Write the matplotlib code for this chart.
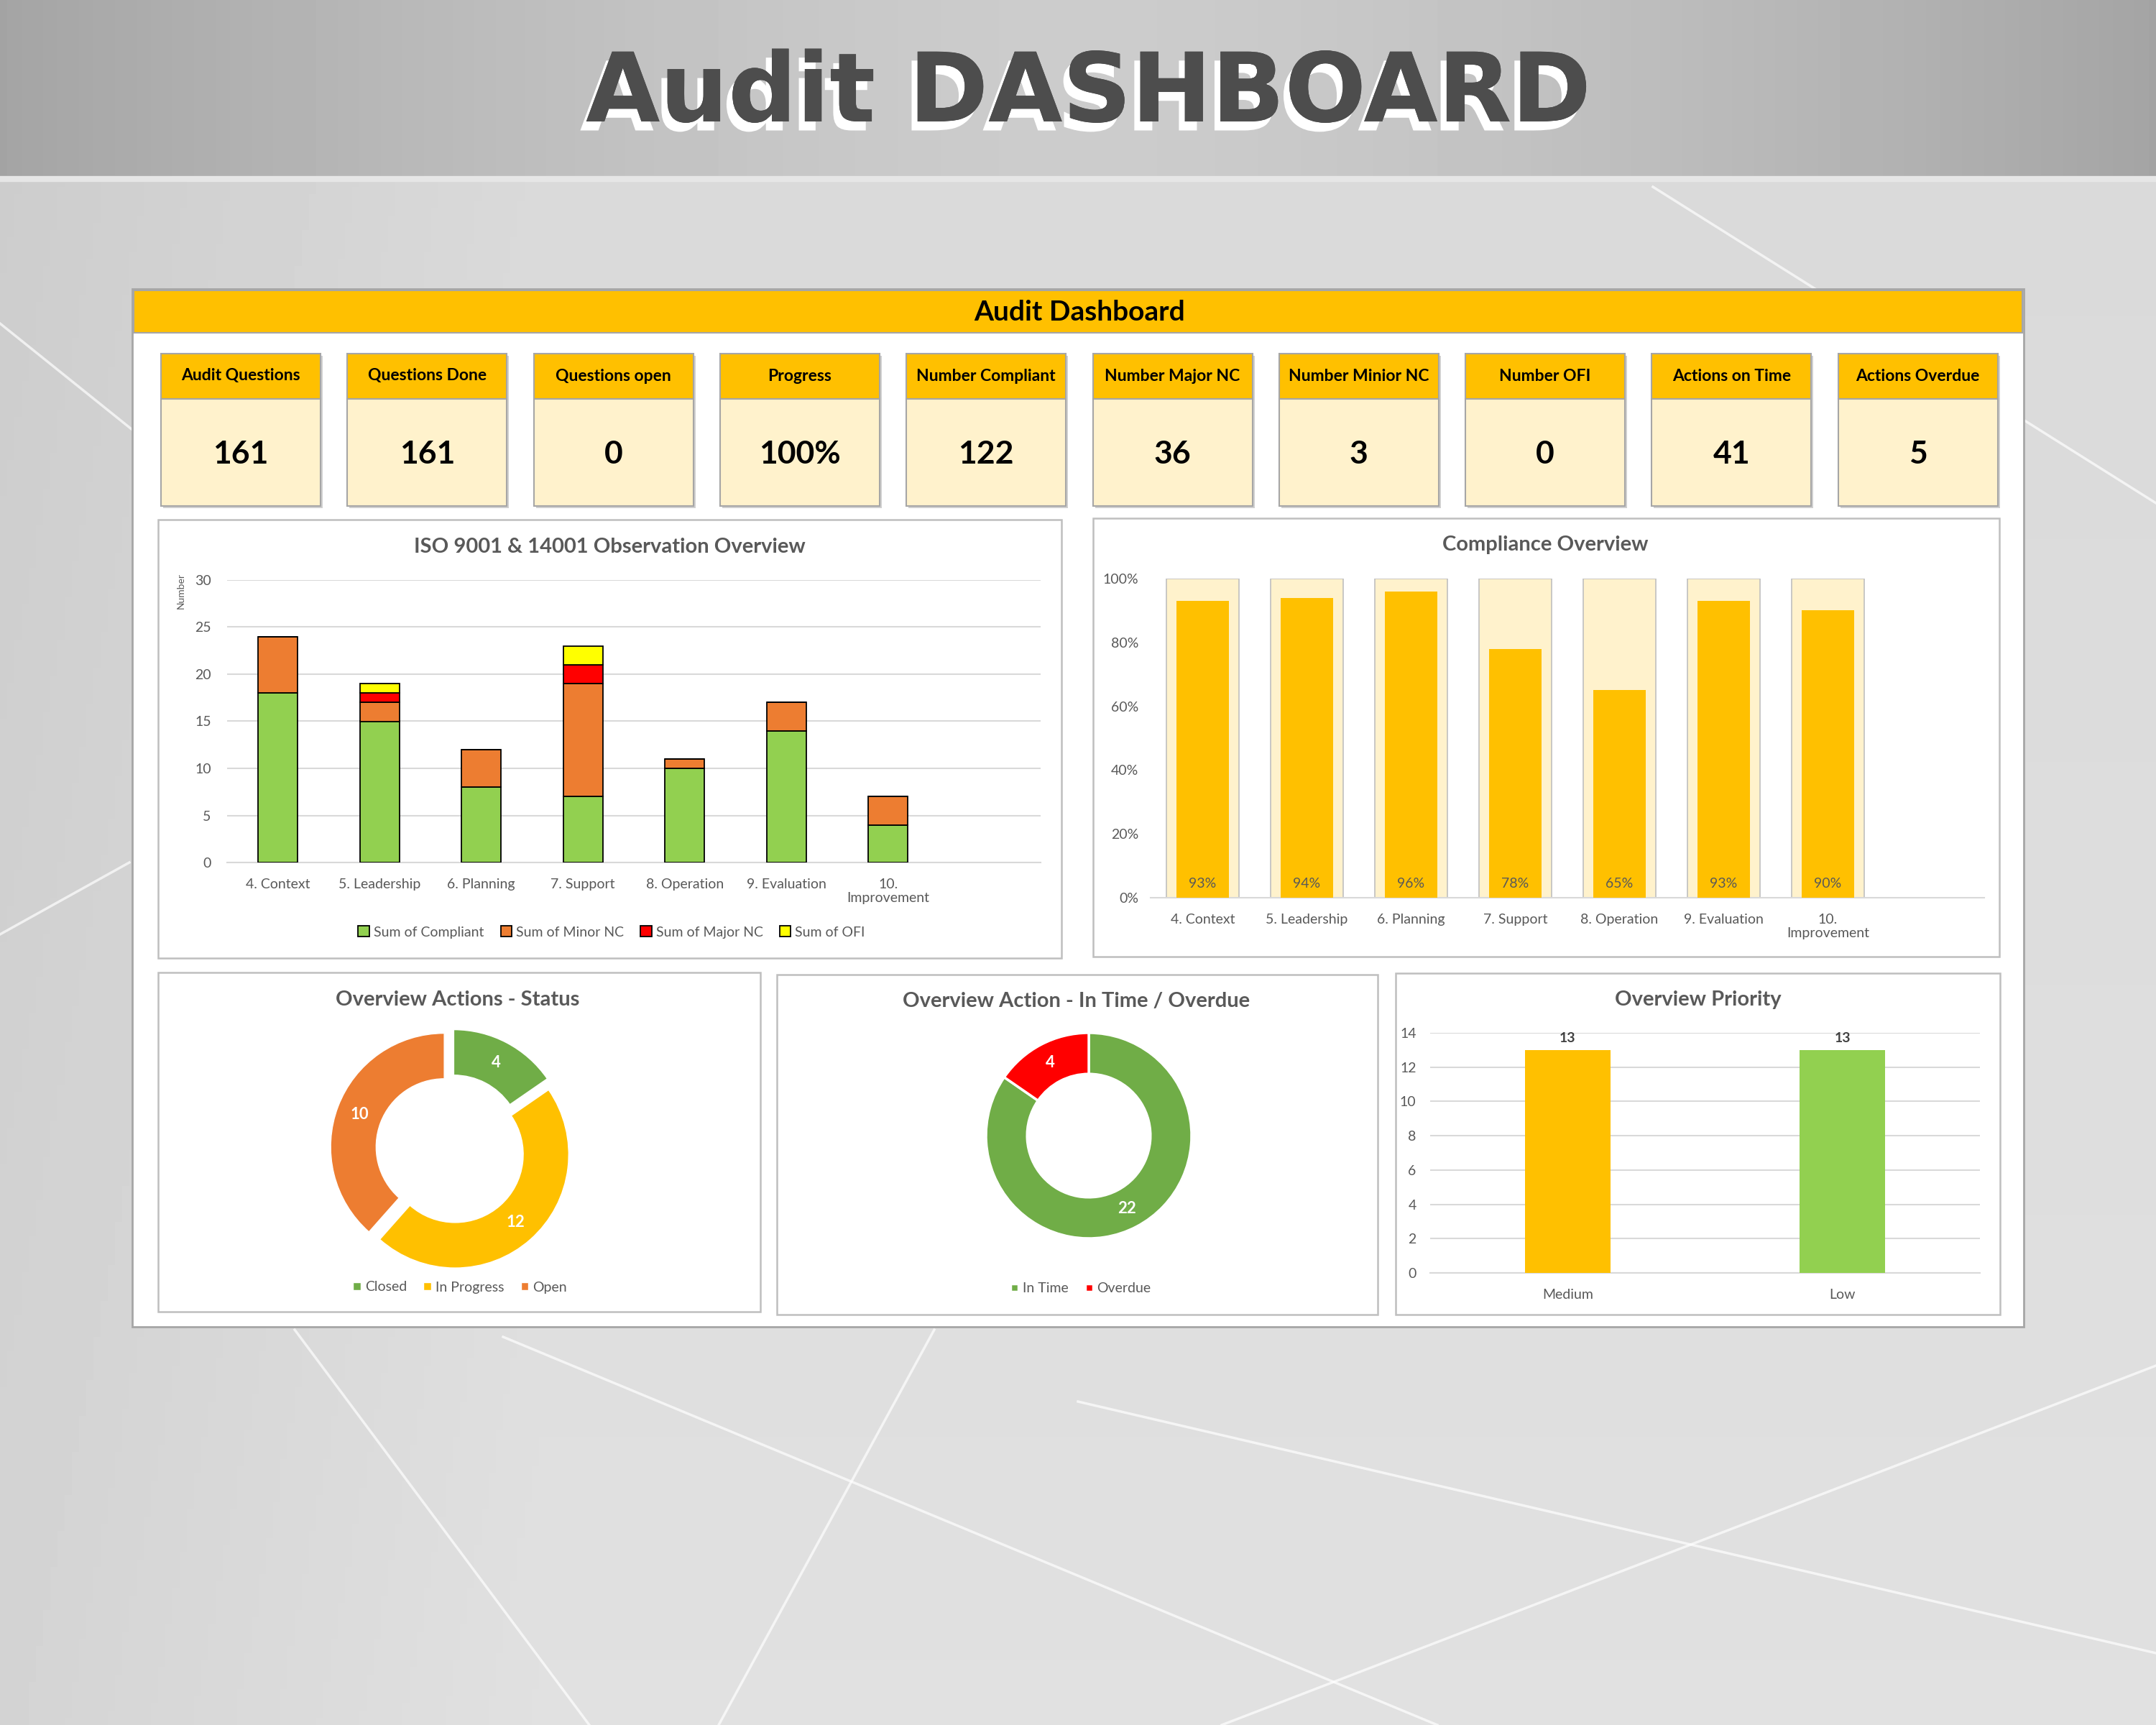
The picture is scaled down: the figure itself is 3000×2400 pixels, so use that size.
import numpy as np
import matplotlib.pyplot as plt
import matplotlib.patheffects as pe
from matplotlib.patches import Rectangle
from matplotlib.ticker import PercentFormatter

plt.rcParams['font.family'] = ['Lato', 'DejaVu Sans']

W, H = 3000, 2400

# KPI tiles
kpi_labels = ['Audit Questions', 'Questions Done', 'Questions open', 'Progress', 'Number Compliant',
              'Number Major NC', 'Number Minior NC', 'Number OFI', 'Actions on Time', 'Actions Overdue']
kpi_values = ['161', '161', '0', '100%', '122', '36', '3', '0', '41', '5']

# ISO 9001 & 14001 observation overview
clauses = ['4. Context', '5. Leadership', '6. Planning', '7. Support', '8. Operation',
           '9. Evaluation', '10.\nImprovement']
compliant = [18, 15, 8, 7, 10, 14, 4]
minor_nc = [6, 2, 4, 12, 1, 3, 3]
major_nc = [0, 1, 0, 2, 0, 0, 0]
ofi = [0, 1, 0, 2, 0, 0, 0]

# compliance overview (%)
compliance_pct = [93, 94, 96, 78, 65, 93, 90]
compliance_full = [100, 100, 100, 100, 100, 100, 100]

status_labels = ['Closed', 'In Progress', 'Open']
status_counts = [4, 12, 10]

timing_labels = ['In Time', 'Overdue']
timing_counts = [22, 4]

priority_labels = ['Medium', 'Low']
priority_counts = [13, 13]

GRAY_TXT = '#595959'
GRID = '#D9D9D9'


def frac(x0, y0, x1, y1):
    # pixel box (top-left origin) -> figure fraction
    return [x0 / W, 1 - y1 / H, (x1 - x0) / W, (y1 - y0) / H]


def style_axis(ax):
    for s in ['top', 'right', 'left']:
        ax.spines[s].set_visible(False)
    ax.spines['bottom'].set_color(GRID)
    ax.spines['bottom'].set_linewidth(1.5)
    ax.tick_params(length=0, labelsize=14, labelcolor=GRAY_TXT, pad=8)
    ax.set_facecolor('none')


def ftext(x, y, s, **kw):
    fig.text(x / W, 1 - y / H, s, ha='center', va='center', **kw)


fig = plt.figure(figsize=(30, 24), dpi=100)

# ---- background ----
bg = fig.add_axes([0, 0, 1, 1])
bg.set_xlim(0, W)
bg.set_ylim(H, 0)
bg.axis('off')

u = np.linspace(0, 1, 300)
v = np.linspace(0, 1, 240)
U, V = np.meshgrid(u, v)
img = 0.85 + 0.03 * V - 0.05 * np.clip(0.25 - U, 0, None) * 4
banner = V < 249 / H
img[banner] = (0.80 - 0.22 * np.abs(U[banner] - 0.5) ** 1.5 * 2)
bg.imshow(img, cmap='gray', vmin=0, vmax=1, extent=(0, W, H, 0), aspect='auto', zorder=0)
bg.plot([0, W], [249, 249], color='#e6e6e6', lw=6, zorder=1)

# light diagonal streaks
for (x0, y0, x1, y1) in [(410, 1850, 820, 2400), (700, 1860, 2000, 2400), (1500, 1950, 3000, 2300),
                         (1700, 2400, 3000, 1900), (0, 450, 560, 900), (0, 1300, 180, 1200),
                         (2300, 260, 3000, 700), (1000, 2400, 1300, 1850)]:
    bg.plot([x0, x1], [y0, y1], color='white', lw=2.5, alpha=0.7, zorder=1)

# page title with white drop shadow
bg.text(1515, 132, 'Audit DASHBOARD', ha='center', va='center', fontsize=96,
        fontweight='bold', color='#4d4d4d', family='DejaVu Sans', zorder=3,
        path_effects=[pe.withSimplePatchShadow(offset=(-6, -9), shadow_rgbFace='white', alpha=1.0),
                      pe.Normal()])

# main dashboard panel
bg.add_patch(Rectangle((184, 402), 2632, 1444, facecolor='white', edgecolor='#A6A6A6', lw=2, zorder=2))
bg.add_patch(Rectangle((186, 404), 2628, 59, facecolor='#FFC000', edgecolor='#A6A6A6', lw=1.5, zorder=3))
bg.text(1502, 435, 'Audit Dashboard', ha='center', va='center', fontsize=28, fontweight='bold',
        color='black', zorder=4)

# KPI tiles
for i, (lab, val) in enumerate(zip(kpi_labels, kpi_values)):
    x0 = 224 + i * 259.3
    bg.add_patch(Rectangle((x0 + 3, 495), 222, 212, facecolor='#d0d0d0', edgecolor='none', zorder=2))
    bg.add_patch(Rectangle((x0, 492), 222, 63, facecolor='#FFC000', edgecolor='#A6A6A6', lw=1.5, zorder=3))
    bg.add_patch(Rectangle((x0, 555), 222, 149, facecolor='#FFF2CC', edgecolor='#A6A6A6', lw=1.5, zorder=3))
    bg.text(x0 + 111, 523, lab, ha='center', va='center', fontsize=16.5, fontweight='bold', zorder=4)
    bg.text(x0 + 111, 632, val, ha='center', va='center', fontsize=32, fontweight='bold', zorder=4)

# chart panels
for (x0, y0, x1, y1) in [(220, 723, 1477, 1333), (1521, 721, 2782, 1331),
                         (220, 1353, 1058, 1825), (1081, 1356, 1917, 1829), (1942, 1354, 2783, 1829)]:
    bg.add_patch(Rectangle((x0, y0), x1 - x0, y1 - y0, facecolor='white', edgecolor='#BFBFBF',
                           lw=1.8, zorder=3))

# ---- ISO observation overview (stacked bars) ----
ax1 = fig.add_axes(frac(316, 807, 1448, 1200))
style_axis(ax1)
x = np.arange(len(clauses))
bottom = np.zeros(len(clauses))
for vals, col, lab in [(compliant, '#92D050', 'Sum of Compliant'), (minor_nc, '#ED7D31', 'Sum of Minor NC'),
                       (major_nc, '#FF0000', 'Sum of Major NC'), (ofi, '#FFFF00', 'Sum of OFI')]:
    ax1.bar(x, vals, 0.39, bottom=bottom, color=col, edgecolor='black', linewidth=1.3, label=lab, zorder=3)
    bottom += np.array(vals)
ax1.set_xlim(-0.5, 7.5)
ax1.set_ylim(0, 30)
ax1.set_yticks(range(0, 31, 5))
ax1.set_xticks(x)
ax1.set_xticklabels(clauses, linespacing=1.1)
ax1.yaxis.grid(True, color=GRID, lw=1.5, zorder=0)
ax1.tick_params(axis='y', pad=16)
ax1.tick_params(axis='x', pad=16)
ax1.legend(loc='center', bbox_to_anchor=(851 / W, 1 - 1297 / H), bbox_transform=fig.transFigure,
           ncol=4, frameon=False, fontsize=14, handlelength=0.8, handleheight=0.8,
           handletextpad=0.3, columnspacing=1.2, labelcolor=GRAY_TXT)
ftext(848, 761, 'ISO 9001 & 14001 Observation Overview', fontsize=21, fontweight='bold', color=GRAY_TXT)
ftext(252, 822, 'Number', fontsize=10, rotation=90, color=GRAY_TXT)

# ---- Compliance overview ----
ax2 = fig.add_axes(frac(1601, 805, 2761, 1249))
style_axis(ax2)
ax2.bar(x, compliance_full, 0.69, color='#FFF2CC', edgecolor='#BFBFBF', linewidth=1.2, zorder=2)
ax2.bar(x, compliance_pct, 0.5, color='#FFC000', zorder=3)
for xi, v in zip(x, compliance_pct):
    ax2.text(xi, 2.5, f'{v}%', ha='center', va='bottom', fontsize=14, color=GRAY_TXT, zorder=4)
ax2.set_xlim(-0.5, 7.5)
ax2.set_ylim(0, 100)
ax2.set_yticks(range(0, 101, 20))
ax2.yaxis.set_major_formatter(PercentFormatter(100, decimals=0))
ax2.set_xticks(x)
ax2.set_xticklabels(clauses, linespacing=1.1)
ax2.tick_params(axis='y', pad=12)
ax2.tick_params(axis='x', pad=16)
ftext(2150, 758, 'Compliance Overview', fontsize=21, fontweight='bold', color=GRAY_TXT)


def donut(cx, cy, r_px, counts, colors, labels, explode, edge_lw, leg_xy, title_xy, title):
    half = r_px * 1.16
    ax = fig.add_axes(frac(cx - half, cy - half, cx + half, cy + half))
    ax.set_facecolor('none')
    wedges, _ = ax.pie(counts, colors=colors, startangle=90, counterclock=False,
                       explode=[explode] * len(counts),
                       wedgeprops=dict(width=0.4, edgecolor='white', linewidth=edge_lw))
    for w, n in zip(wedges, counts):
        ang = np.deg2rad((w.theta1 + w.theta2) / 2)
        ax.text(w.center[0] + 0.8 * np.cos(ang), w.center[1] + 0.8 * np.sin(ang), str(n),
                ha='center', va='center', fontsize=16, fontweight='bold', color='white')
    ax.set_xlim(-1.16, 1.16)
    ax.set_ylim(-1.16, 1.16)
    ax.set_aspect('equal')
    ax.axis('off')
    ax.legend(wedges, labels, loc='center', bbox_to_anchor=(leg_xy[0] / W, 1 - leg_xy[1] / H),
              bbox_transform=fig.transFigure, ncol=len(labels), frameon=False, fontsize=14,
              handlelength=0.55, handleheight=0.55, handletextpad=0.3, columnspacing=1.2,
              labelcolor=GRAY_TXT)
    ftext(title_xy[0], title_xy[1], title, fontsize=21, fontweight='bold', color=GRAY_TXT)


donut(627, 1599, 158, status_counts, ['#70AD47', '#FFC000', '#ED7D31'], status_labels, 0.06, 1,
      (640, 1791), (637, 1391), 'Overview Actions - Status')
donut(1515, 1580, 143, timing_counts, ['#70AD47', '#FF0000'], timing_labels, 0.0, 2.5,
      (1504, 1793), (1498, 1393), 'Overview Action - In Time / Overdue')

# ---- Priority ----
ax5 = fig.add_axes(frac(1990, 1437, 2755, 1771))
style_axis(ax5)
bars = ax5.bar(range(2), priority_counts, 0.31, color=['#FFC000', '#92D050'], zorder=3)
ax5.bar_label(bars, padding=6, fontsize=14, fontweight='bold', color='#404040')
ax5.set_xlim(-0.5, 1.5)
ax5.set_ylim(0, 14)
ax5.set_yticks(range(0, 15, 2))
ax5.set_xticks(range(2))
ax5.set_xticklabels(priority_labels)
ax5.yaxis.grid(True, color=GRID, lw=1.5, zorder=0)
ax5.tick_params(axis='y', pad=14)
ax5.tick_params(axis='x', pad=16)
ftext(2363, 1391, 'Overview Priority', fontsize=21, fontweight='bold', color=GRAY_TXT)

fig.savefig('out.png', dpi=100)
